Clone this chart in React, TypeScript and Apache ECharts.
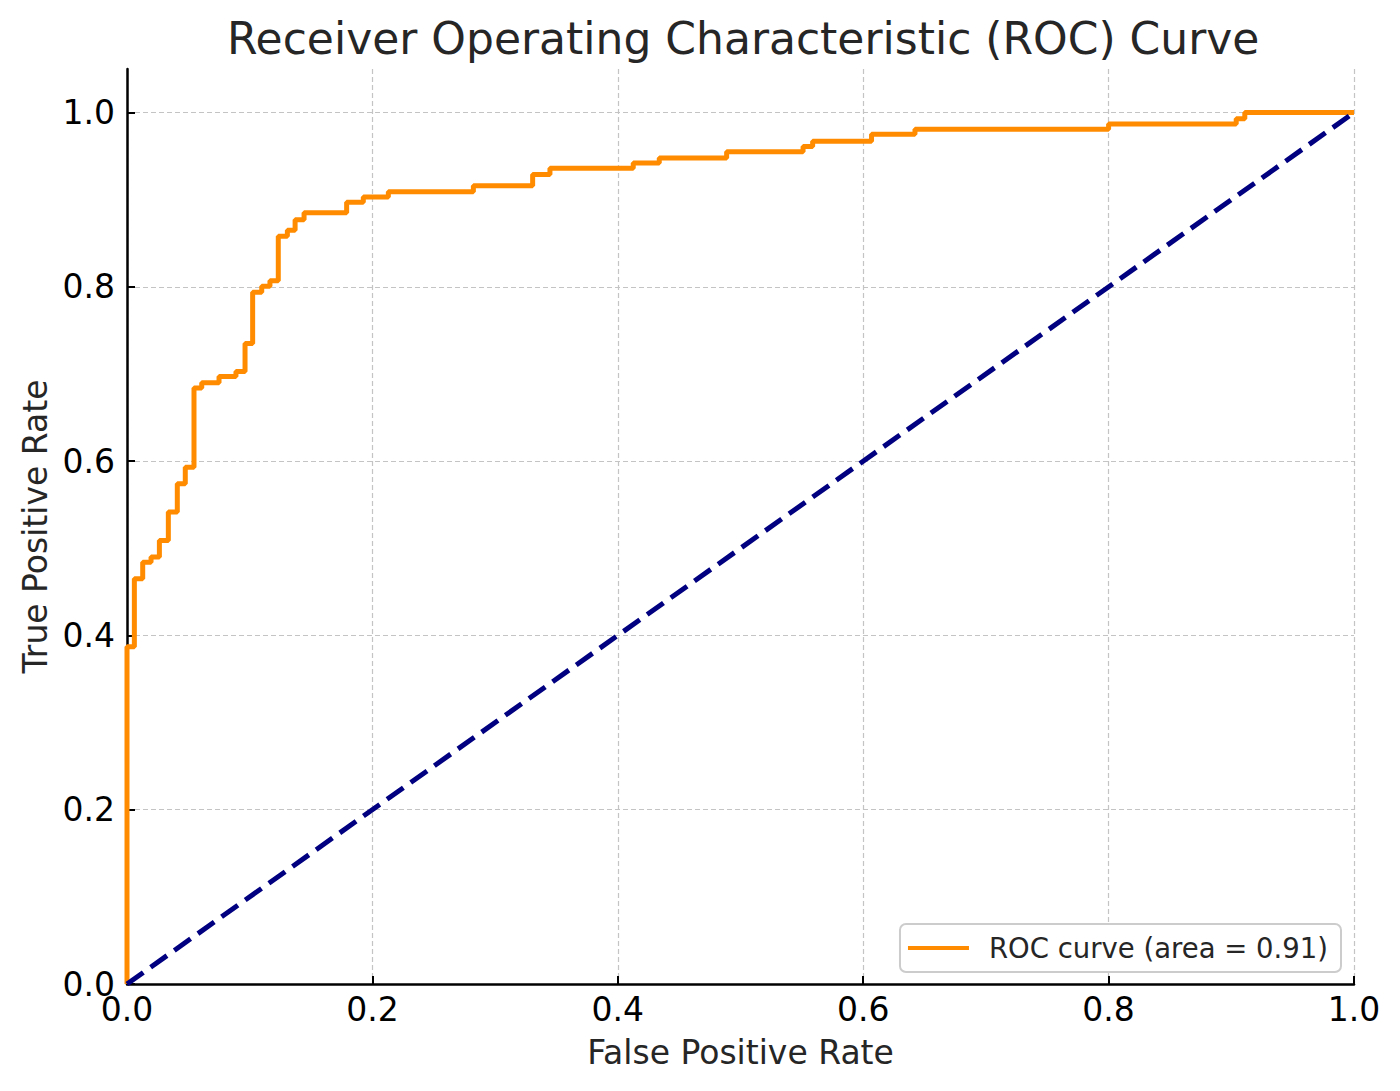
import React, { useEffect, useRef } from 'react';
import * as echarts from 'echarts';

// ROC curve corner points (false positive rate / true positive rate)
const fpr = [
  0, 0, 0.006, 0.0128, 0.0196, 0.0264, 0.0337, 0.041, 0.0475, 0.0546,
  0.0609, 0.075, 0.0888, 0.0962, 0.1024, 0.1098, 0.1165, 0.1233, 0.1307, 0.137,
  0.1443, 0.179, 0.1926, 0.213, 0.2823, 0.3306, 0.3447, 0.4126, 0.4338, 0.4887,
  0.551, 0.5588, 0.6068, 0.6422, 0.8, 0.904, 0.911, 1.0,
];
const tpr = [
  0, 0.387, 0.465, 0.484, 0.49, 0.509, 0.5415, 0.574, 0.593, 0.684,
  0.69, 0.697, 0.703, 0.735, 0.7937, 0.8006, 0.807, 0.858, 0.865, 0.877,
  0.885, 0.897, 0.903, 0.909, 0.916, 0.929, 0.936, 0.942, 0.948, 0.955,
  0.961, 0.967, 0.975, 0.981, 0.987, 0.993, 1.0, 1.0,
];
// chance line
const chanceX = [0, 1];
const chanceY = [0, 1];

const xTicks = [0, 0.2, 0.4, 0.6, 0.8, 1.0];
const yTicks = [0, 0.2, 0.4, 0.6, 0.8, 1.0];

const rocName = 'ROC curve (area = 0.91)';
const titleText = 'Receiver Operating Characteristic (ROC) Curve';

const FONT = '"DejaVu Sans", sans-serif';

const App: React.FC = () => {
  const chartRef: any = useRef(null);

  useEffect(() => {
    const chart = echarts.init(chartRef.current, null, { renderer: 'svg' });
    const gridLine = { show: true, lineStyle: { color: '#c4c4c4', width: 1.2, type: [5, 3] } };
    const option: any = {
      animation: false,
      backgroundColor: '#fff',
      title: {
        text: titleText,
        left: 222,
        top: 11,
        textStyle: { fontFamily: FONT, fontSize: 44, fontWeight: 'normal', color: '#262626' },
      },
      grid: { left: 127, right: 46, top: 69, bottom: 107 },
      legend: {
        data: [rocName],
        right: 59,
        bottom: 119,
        backgroundColor: '#fff',
        borderColor: '#cccccc',
        borderWidth: 2,
        borderRadius: 6,
        padding: [10, 13, 10, 8],
        icon: 'rect',
        itemWidth: 61,
        itemHeight: 4,
        textStyle: { fontFamily: FONT, fontSize: 27.5, color: '#262626', padding: [0, 0, 0, 15] },
      },
      xAxis: {
        type: 'value',
        min: 0,
        max: 1,
        interval: 0.2,
        name: 'False Positive Rate',
        nameLocation: 'middle',
        nameGap: 52,
        nameTextStyle: { fontFamily: FONT, fontSize: 33, color: '#262626' },
        axisLine: { show: true, onZero: false, lineStyle: { color: '#000', width: 2.5 } },
        axisTick: { show: true, inside: true, length: 8, lineStyle: { color: '#000', width: 2 }, customValues: xTicks },
        axisLabel: {
          fontFamily: FONT, fontSize: 33, color: '#000', margin: 9,
          customValues: xTicks,
          formatter: (v: number) => v.toFixed(1),
        },
        splitLine: gridLine,
      },
      yAxis: {
        type: 'value',
        min: 0,
        max: 1.05,
        name: 'True Positive Rate',
        nameLocation: 'middle',
        nameGap: 75,
        nameTextStyle: { fontFamily: FONT, fontSize: 33, color: '#262626' },
        axisLine: { show: true, onZero: false, lineStyle: { color: '#000', width: 2.5 } },
        axisTick: { show: true, inside: true, length: 8, lineStyle: { color: '#000', width: 2 }, customValues: yTicks },
        axisLabel: {
          fontFamily: FONT, fontSize: 33, color: '#000', margin: 12,
          customValues: yTicks,
          formatter: (v: number) => v.toFixed(1),
        },
        splitLine: gridLine,
      },
      series: [
        {
          name: rocName,
          type: 'line',
          step: 'end',
          showSymbol: false,
          symbol: 'none',
          color: '#ff8c00',
          lineStyle: { color: '#ff8c00', width: 5 },
          data: fpr.map((x, i) => [x, tpr[i]]),
          z: 3,
        },
        {
          name: 'chance',
          type: 'line',
          showSymbol: false,
          symbol: 'none',
          lineStyle: { color: '#000080', width: 5, type: [20, 9] },
          data: chanceX.map((x, i) => [x, chanceY[i]]),
          z: 4,
        },
      ],
    };
    chart.setOption(option);
    return () => {
      chart.dispose();
    };
  }, []);

  return (
    <div
      ref={chartRef}
      style={{ position: 'fixed', left: 0, top: 0, width: 1400, height: 1091 }}
    ></div>
  );
};

export default App;
